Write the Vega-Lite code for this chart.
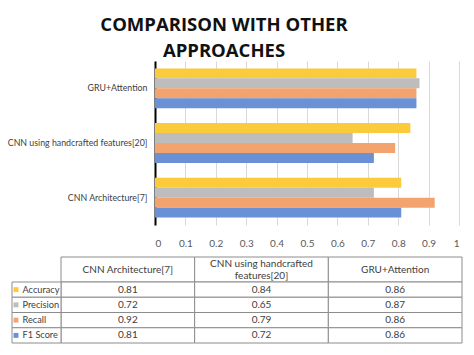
{
  "$schema": "https://vega.github.io/schema/vega-lite/v6.json",
  "background": "white",
  "padding": {"left": 7, "top": 15, "right": 4, "bottom": 4},
  "config": {"font": "Lato", "view": {"stroke": null}},
  "title": {
    "text": ["COMPARISON WITH OTHER", "APPROACHES"],
    "font": "Open Sans",
    "fontSize": 18.5,
    "fontWeight": "bold",
    "color": "#111111",
    "lineHeight": 26,
    "anchor": "middle",
    "frame": "group",
    "offset": 1,
    "dx": 69
  },
  "datasets": {
    "scores": [
      {"approach": "CNN Architecture[7]", "metric": "Accuracy", "value": 0.81},
      {"approach": "CNN Architecture[7]", "metric": "Precision", "value": 0.72},
      {"approach": "CNN Architecture[7]", "metric": "Recall", "value": 0.92},
      {"approach": "CNN Architecture[7]", "metric": "F1 Score", "value": 0.81},
      {"approach": "CNN using handcrafted features[20]", "metric": "Accuracy", "value": 0.84},
      {"approach": "CNN using handcrafted features[20]", "metric": "Precision", "value": 0.65},
      {"approach": "CNN using handcrafted features[20]", "metric": "Recall", "value": 0.79},
      {"approach": "CNN using handcrafted features[20]", "metric": "F1 Score", "value": 0.72},
      {"approach": "GRU+Attention", "metric": "Accuracy", "value": 0.86},
      {"approach": "GRU+Attention", "metric": "Precision", "value": 0.87},
      {"approach": "GRU+Attention", "metric": "Recall", "value": 0.86},
      {"approach": "GRU+Attention", "metric": "F1 Score", "value": 0.86}
    ],
    "headers": [
      {"approach": "CNN Architecture[7]", "label": "CNN Architecture[7]"},
      {"approach": "CNN using handcrafted features[20]", "label": "CNN using handcrafted\nfeatures[20]"},
      {"approach": "GRU+Attention", "label": "GRU+Attention"}
    ],
    "metrics": [
      {"metric": "Accuracy"},
      {"metric": "Precision"},
      {"metric": "Recall"},
      {"metric": "F1 Score"}
    ]
  },
  "spacing": 8,
  "resolve": {"scale": {"x": "independent", "y": "independent", "color": "shared"}},
  "vconcat": [
    {
      "width": 304,
      "height": 164,
      "data": {"name": "scores"},
      "mark": {"type": "bar"},
      "encoding": {
        "y": {
          "field": "approach",
          "type": "nominal",
          "sort": ["GRU+Attention", "CNN using handcrafted features[20]", "CNN Architecture[7]"],
          "scale": {"paddingInner": 0.27, "paddingOuter": 0.135},
          "axis": {"title": null, "domainColor": "#000000", "domainWidth": 2, "ticks": false, "labelPadding": 8, "labelFontSize": 8.8, "labelColor": "#404040", "labelLimit": 300}
        },
        "yOffset": {"field": "metric", "type": "nominal", "sort": ["Accuracy", "Precision", "Recall", "F1 Score"]},
        "x": {
          "field": "value",
          "type": "quantitative",
          "scale": {"domain": [0, 1], "nice": false},
          "axis": {"title": null, "values": [0, 0.1, 0.2, 0.3, 0.4, 0.5, 0.6, 0.7, 0.8, 0.9, 1], "format": "~g", "domain": false, "ticks": false, "gridColor": "#d9d9d9", "labelColor": "#595959", "labelFontSize": 10, "labelPadding": 13}
        },
        "color": {
          "field": "metric",
          "type": "nominal",
          "scale": {"domain": ["Accuracy", "Precision", "Recall", "F1 Score"], "range": ["#FBCB3C", "#BDBDBD", "#F2A36E", "#6A90D6"]},
          "legend": null
        }
      }
    },
    {
      "width": 307,
      "height": 61,
      "resolve": {"scale": {"x": "independent", "y": "independent"}},
      "layer": [
        {
          "data": {"name": "headers"},
          "mark": {"type": "rect", "fill": "white", "stroke": "#8c8c8c", "strokeWidth": 1},
          "encoding": {
            "x": {"field": "approach", "type": "nominal", "scale": {"domain": ["CNN Architecture[7]", "CNN using handcrafted features[20]", "GRU+Attention"], "range": [-94, 307], "paddingInner": 0, "paddingOuter": 0}, "axis": null},
            "y": {"datum": "header", "type": "nominal", "scale": {"domain": ["header"], "range": [-25, 0], "paddingInner": 0, "paddingOuter": 0}, "axis": null}
          }
        },
        {
          "data": {"name": "headers"},
          "transform": [{"filter": "indexof(datum.label, '\\n') < 0"}],
          "mark": {"type": "text", "fontSize": 10, "color": "#404040"},
          "encoding": {
            "x": {"field": "approach", "type": "nominal", "scale": {"domain": ["CNN Architecture[7]", "CNN using handcrafted features[20]", "GRU+Attention"], "range": [-94, 307], "paddingInner": 0, "paddingOuter": 0}, "axis": null},
            "y": {"datum": "header", "type": "nominal", "scale": {"domain": ["header"], "range": [-25, 0], "paddingInner": 0, "paddingOuter": 0}, "axis": null},
            "text": {"field": "label"}
          }
        },
        {
          "data": {"name": "headers"},
          "transform": [{"filter": "indexof(datum.label, '\\n') >= 0"}],
          "mark": {"type": "text", "lineBreak": "\n", "fontSize": 10, "color": "#404040", "lineHeight": 12.5, "dy": -6},
          "encoding": {
            "x": {"field": "approach", "type": "nominal", "scale": {"domain": ["CNN Architecture[7]", "CNN using handcrafted features[20]", "GRU+Attention"], "range": [-94, 307], "paddingInner": 0, "paddingOuter": 0}, "axis": null},
            "y": {"datum": "header", "type": "nominal", "scale": {"domain": ["header"], "range": [-25, 0], "paddingInner": 0, "paddingOuter": 0}, "axis": null},
            "text": {"field": "label"}
          }
        },
        {
          "data": {"name": "scores"},
          "mark": {"type": "rect", "fill": "white", "stroke": "#8c8c8c", "strokeWidth": 1},
          "encoding": {
            "x": {"field": "approach", "type": "nominal", "scale": {"domain": ["CNN Architecture[7]", "CNN using handcrafted features[20]", "GRU+Attention"], "range": [-94, 307], "paddingInner": 0, "paddingOuter": 0}, "axis": null},
            "y": {"field": "metric", "type": "nominal", "scale": {"domain": ["Accuracy", "Precision", "Recall", "F1 Score"], "range": [0, 61], "paddingInner": 0, "paddingOuter": 0}, "axis": null}
          }
        },
        {
          "data": {"name": "scores"},
          "mark": {"type": "text", "fontSize": 10, "color": "#404040"},
          "encoding": {
            "x": {"field": "approach", "type": "nominal", "scale": {"domain": ["CNN Architecture[7]", "CNN using handcrafted features[20]", "GRU+Attention"], "range": [-94, 307], "paddingInner": 0, "paddingOuter": 0}, "axis": null},
            "y": {"field": "metric", "type": "nominal", "scale": {"domain": ["Accuracy", "Precision", "Recall", "F1 Score"], "range": [0, 61], "paddingInner": 0, "paddingOuter": 0}, "axis": null},
            "text": {"field": "value", "type": "quantitative", "format": ".2f"}
          }
        },
        {
          "data": {"name": "metrics"},
          "mark": {"type": "rect", "fill": "white", "stroke": "#8c8c8c", "strokeWidth": 1},
          "encoding": {
            "x": {"datum": "label", "type": "nominal", "scale": {"domain": ["label"], "range": [-143, -94], "paddingInner": 0, "paddingOuter": 0}, "axis": null},
            "y": {"field": "metric", "type": "nominal", "scale": {"domain": ["Accuracy", "Precision", "Recall", "F1 Score"], "range": [0, 61], "paddingInner": 0, "paddingOuter": 0}, "axis": null}
          }
        },
        {
          "data": {"name": "metrics"},
          "mark": {"type": "point", "shape": "square", "filled": true, "size": 24, "opacity": 1},
          "encoding": {
            "x": {"datum": "label", "type": "nominal", "scale": {"domain": ["label"], "range": [-143, -135], "paddingInner": 0, "paddingOuter": 0}, "axis": null},
            "y": {"field": "metric", "type": "nominal", "scale": {"domain": ["Accuracy", "Precision", "Recall", "F1 Score"], "range": [0, 61], "paddingInner": 0, "paddingOuter": 0}, "axis": null},
            "color": {"field": "metric", "type": "nominal", "legend": null}
          }
        },
        {
          "data": {"name": "metrics"},
          "mark": {"type": "text", "align": "left", "fontSize": 9.2, "color": "#404040"},
          "encoding": {
            "x": {"datum": "label", "type": "nominal", "scale": {"domain": ["label"], "range": [-143, -122], "paddingInner": 0, "paddingOuter": 0}, "axis": null},
            "y": {"field": "metric", "type": "nominal", "scale": {"domain": ["Accuracy", "Precision", "Recall", "F1 Score"], "range": [0, 61], "paddingInner": 0, "paddingOuter": 0}, "axis": null},
            "text": {"field": "metric"}
          }
        }
      ]
    }
  ]
}
